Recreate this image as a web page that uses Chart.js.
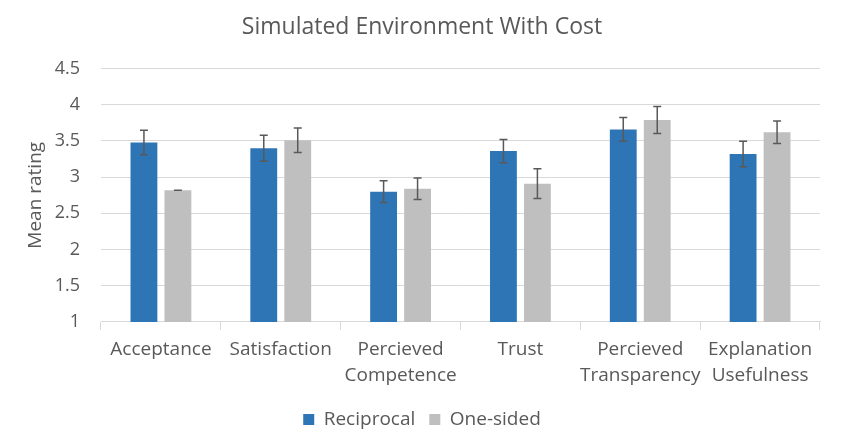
<!DOCTYPE html>
<html>
<head>
<meta charset="utf-8">
<script src="https://cdn.jsdelivr.net/npm/chart.js@4"></script>
<style>
  html, body { margin: 0; padding: 0; background: #fff; }
  #wrap { width: 842px; height: 443px; }
</style>
</head>
<body>
<div id="wrap"><canvas id="chart"></canvas></div>
<script>
// data
const categories = [
  'Acceptance', 'Satisfaction', ['Percieved', 'Competence'], 'Trust',
  ['Percieved', 'Transparency'], ['Explanation', 'Usefulness']
];
const reciprocal    = [3.48, 3.40, 2.80, 3.36, 3.66, 3.32];
const reciprocalErr = [0.17, 0.18, 0.15, 0.16, 0.165, 0.175];
const oneSided      = [2.82, 3.51, 2.84, 2.91, 3.79, 3.62];
const oneSidedErr   = [0.0, 0.17, 0.15, 0.205, 0.185, 0.155];
const yTicks = [1, 1.5, 2, 2.5, 3, 3.5, 4, 4.5];

const textColor = '#595959';
const fontFam = '"Open Sans", sans-serif';

// chart.js has no error bars, draw them from the scales
const errorBars = {
  id: 'errorBars',
  afterDatasetsDraw(chart) {
    const ctx = chart.ctx;
    const ys = chart.scales.y;
    chart.data.datasets.forEach((ds, i) => {
      const meta = chart.getDatasetMeta(i);
      meta.data.forEach((bar, j) => {
        const v = ds.data[j], e = ds.errors[j];
        if (e == null) return;
        const top = ys.getPixelForValue(v + e);
        const bot = ys.getPixelForValue(v - e);
        ctx.save();
        ctx.strokeStyle = '#595959';
        ctx.lineWidth = 1.5;
        ctx.beginPath();
        ctx.moveTo(bar.x, top); ctx.lineTo(bar.x, bot);
        ctx.moveTo(bar.x - 4, top); ctx.lineTo(bar.x + 4, top);
        ctx.moveTo(bar.x - 4, bot); ctx.lineTo(bar.x + 4, bot);
        ctx.stroke();
        ctx.restore();
      });
    });
  }
};

new Chart(document.getElementById('chart'), {
  type: 'bar',
  data: {
    labels: categories,
    datasets: [
      { label: 'Reciprocal', data: reciprocal, errors: reciprocalErr,
        backgroundColor: '#2E75B6', categoryPercentage: 0.567, barPercentage: 0.79 },
      { label: 'One-sided', data: oneSided, errors: oneSidedErr,
        backgroundColor: '#BFBFBF', categoryPercentage: 0.567, barPercentage: 0.79 }
    ]
  },
  options: {
    responsive: true,
    maintainAspectRatio: false,
    animation: false,
    layout: { padding: { left: 24, right: 22, top: 6, bottom: 4 } },
    plugins: {
      title: {
        display: true,
        text: 'Simulated Environment With Cost',
        color: textColor,
        font: { family: fontFam, size: 23, weight: 'normal' },
        padding: { top: 8, bottom: 27 }
      },
      legend: {
        position: 'bottom',
        labels: {
          color: textColor,
          font: { family: fontFam, size: 19 },
          boxWidth: 11, boxHeight: 11, padding: 14
        }
      },
      tooltip: { enabled: false }
    },
    scales: {
      x: {
        grid: { display: true, offset: true, drawOnChartArea: false, tickLength: 8, color: '#D9D9D9' },
        border: { color: '#D9D9D9' },
        ticks: { color: textColor, font: { family: fontFam, size: 19, lineHeight: 1.37 },
                 padding: 7, maxRotation: 0, autoSkip: false }
      },
      y: {
        min: 1, max: 4.5,
        afterBuildTicks: (axis) => { axis.ticks = yTicks.map(v => ({ value: v })); },
        afterFit: (axis) => { axis.width = 77; },
        grid: { color: '#D9D9D9', drawTicks: false },
        border: { display: false },
        ticks: { color: textColor, font: { family: fontFam, size: 18 }, padding: 21,
                 callback: (v) => String(v) },
        title: { display: true, text: 'Mean rating', color: textColor, padding: 0,
                 font: { family: fontFam, size: 19 } }
      }
    }
  },
  plugins: [errorBars]
});
</script>
</body>
</html>
